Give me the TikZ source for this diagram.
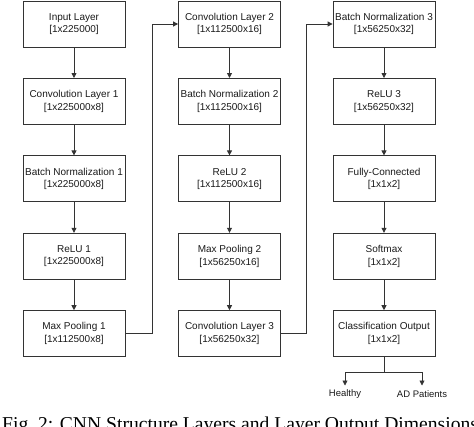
\documentclass[tikz,border=0pt]{standalone}
\usepackage{fontspec}
\setmainfont{Liberation Sans}
\newfontfamily\capfont{Liberation Serif}
\usetikzlibrary{arrows.meta}
\definecolor{linec}{HTML}{333333}
\definecolor{textc}{HTML}{1A1A1A}
\tikzset{
  layer/.style={draw=linec, line width=0.8pt, minimum width=102pt, minimum height=46pt,
    inner sep=0pt, align=center, text=textc, font=\fontsize{10}{12.5}\selectfont},
  conn/.style={draw=linec, line width=0.8pt, -{Triangle[length=5pt,width=5pt]}},
  plain/.style={draw=linec, line width=0.8pt},
  outlbl/.style={text=textc, font=\fontsize{9.5}{11}\selectfont, inner sep=0pt}
}
\begin{document}
\begin{tikzpicture}[x=1pt,y=-1pt]
\useasboundingbox (0,0) rectangle (474,426);
% column 1
\node[layer] (in)  at (74,24)    {Input Layer\\{[1x225000]}};
\node[layer] (c1)  at (74,101.4) {Convolution Layer 1\\{[1x225000x8]}};
\node[layer] (b1)  at (74,178.8) {Batch Normalization 1\\{[1x225000x8]}};
\node[layer] (r1)  at (74,256.2) {ReLU 1\\{[1x225000x8]}};
\node[layer] (m1)  at (74,333.6) {Max Pooling 1\\{[1x112500x8]}};
% column 2
\node[layer] (c2)  at (229.5,24)    {Convolution Layer 2\\{[1x112500x16]}};
\node[layer] (b2)  at (229.5,101.4) {Batch Normalization 2\\{[1x112500x16]}};
\node[layer] (r2)  at (229.5,178.8) {ReLU 2\\{[1x112500x16]}};
\node[layer] (m2)  at (229.5,256.2) {Max Pooling 2\\{[1x56250x16]}};
\node[layer] (c3)  at (229.5,333.6) {Convolution Layer 3\\{[1x56250x32]}};
% column 3
\node[layer] (b3)  at (384,24)    {Batch Normalization 3\\{[1x56250x32]}};
\node[layer] (r3)  at (384,101.4) {ReLU 3\\{[1x56250x32]}};
\node[layer] (fc)  at (384,178.8) {Fully-Connected\\{[1x1x2]}};
\node[layer] (sm)  at (384,256.2) {Softmax\\{[1x1x2]}};
\node[layer] (co)  at (384,333.6) {Classification Output\\{[1x1x2]}};
% outputs
\node[outlbl] (h)  at (345,394) {Healthy};
\node[outlbl] (ad) at (422,394) {AD Patients};
\coordinate (split) at (384,372);
\coordinate (hend) at (345,385.5);
\coordinate (adend) at (422,385.5);
% vertical arrows
\draw[conn] (in) -- (c1);
\draw[conn] (c1) -- (b1);
\draw[conn] (b1) -- (r1);
\draw[conn] (r1) -- (m1);
\draw[conn] (c2) -- (b2);
\draw[conn] (b2) -- (r2);
\draw[conn] (r2) -- (m2);
\draw[conn] (m2) -- (c3);
\draw[conn] (b3) -- (r3);
\draw[conn] (r3) -- (fc);
\draw[conn] (fc) -- (sm);
\draw[conn] (sm) -- (co);
% column jumps
\draw[conn] (m1.east) -- (152,333.6) -- (152,24) -- (c2.west);
\draw[conn] (c3.east) -- (306,333.6) -- (306,24) -- (b3.west);
% split to outputs
\draw[plain] (co.south) -- (split);
\draw[conn] (split) -| (hend);
\draw[conn] (split) -| (adend);
% caption
\node[anchor=base west, inner sep=0pt, font=\capfont\fontsize{19.6}{22}\selectfont] (cap) at (2,430)
  {Fig.~2: CNN Structure Layers and Layer Output Dimensions};
\end{tikzpicture}
\end{document}
